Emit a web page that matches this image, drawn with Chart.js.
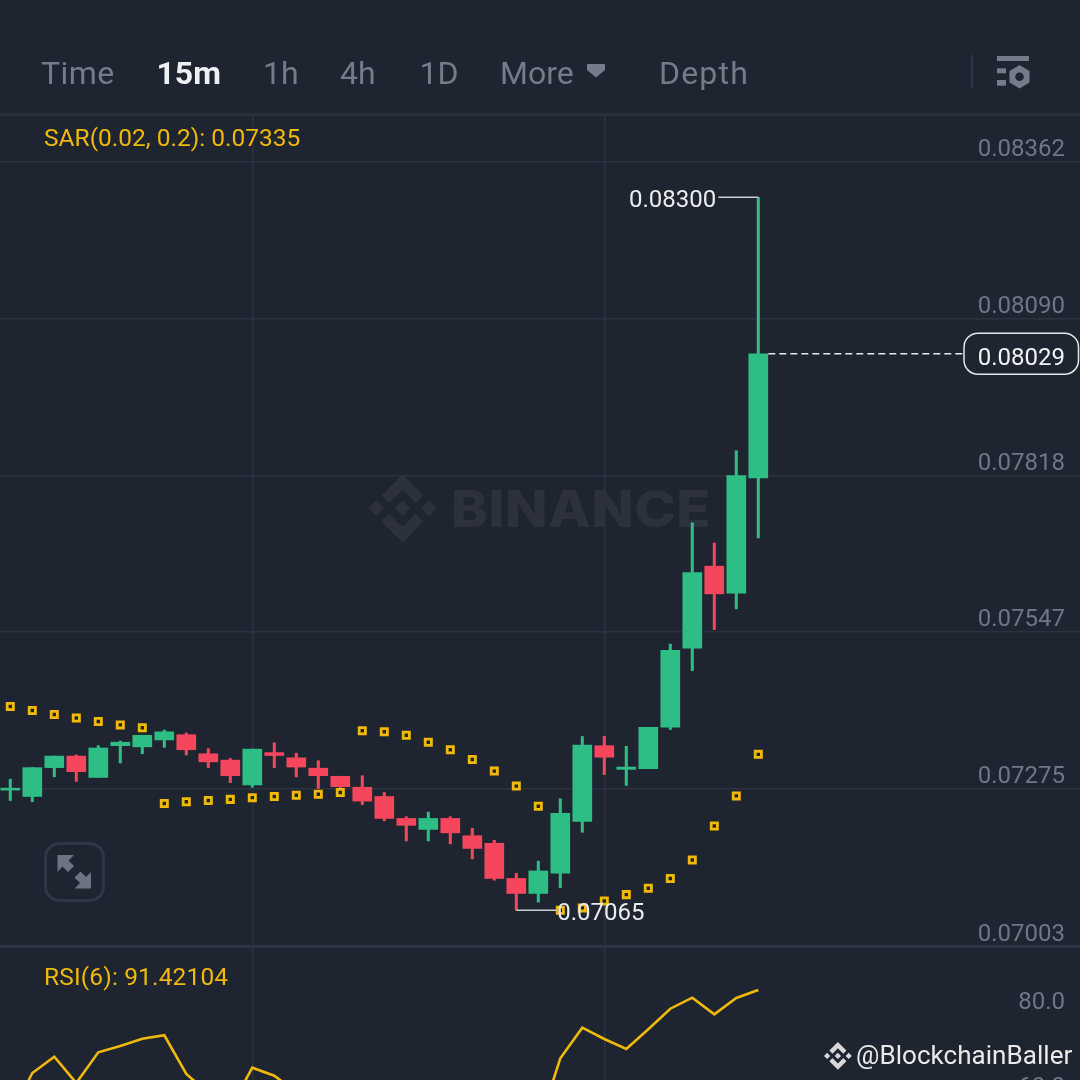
<!DOCTYPE html>
<html>
<head>
<meta charset="utf-8">
<script src="https://cdn.jsdelivr.net/npm/chart.js@4"></script>
<style>
html,body{margin:0;padding:0;background:#1e2530;}
#stage{position:relative;width:1080px;height:1080px;overflow:hidden;background:#1e2530;font-family:Roboto,sans-serif;}
#stage span{position:absolute;white-space:nowrap;}
.tab{font-size:32px;line-height:40px;top:53.4px;color:#747c8b;}
.legend{font-size:24.5px;line-height:30px;color:#f0b90b;}
canvas{position:absolute;left:0;top:0;}
svg{position:absolute;left:0;top:0;}
</style>
</head>
<body>
<div id="stage">
  <svg width="1080" height="1080" viewBox="0 0 1080 1080">
    <g transform="translate(368.5 474.5) scale(0.5370)" fill="#2c313d">
      <path d="M38.73 53.2l24.59-24.58 24.6 24.6 14.3-14.31L63.32 0 24.42 38.9zM0 63.31l14.3-14.31 14.31 14.31-14.31 14.3zM38.73 73.41l24.59 24.59 24.6-24.6 14.31 14.29-38.9 38.91-38.91-38.88-.02-.02zM98.28 63.31l14.3-14.31 14.31 14.3-14.31 14.32zM77.83 63.3L63.32 48.78 52.59 59.51l-1.24 1.23-2.54 2.54 14.51 14.5 14.51-14.47z"/>
    </g>
  </svg>
  <span style="left:451px;top:478.5px;font-family:Inter,sans-serif;font-weight:800;font-size:51px;line-height:60px;letter-spacing:0.5px;color:#2c313d;transform:scaleX(1.09);transform-origin:left center">BINANCE</span>
  <canvas id="c" width="1080" height="1080"></canvas>

  <span class="tab" style="left:41px;letter-spacing:0.4px">Time</span>
  <span class="tab" style="left:156.5px;color:#eef0f3;font-weight:700">15m</span>
  <span class="tab" style="left:263px">1h</span>
  <span class="tab" style="left:340px">4h</span>
  <span class="tab" style="left:419.5px">1D</span>
  <span class="tab" style="left:500px">More</span>
  <span class="tab" style="left:659px;letter-spacing:1.2px">Depth</span>
  <span class="legend" style="left:44px;top:123.3px">SAR(0.02, 0.2): 0.07335</span>
  <span class="legend" style="left:44px;top:962.3px;letter-spacing:0.15px">RSI(6): 91.42104</span>
  <span style="left:856px;top:1040px;font-size:26px;line-height:30px;letter-spacing:0.05px;color:#eaeaea">@BlockchainBaller</span>

  <svg width="1080" height="1080" viewBox="0 0 1080 1080">
    <rect x="0" y="113.3" width="1080" height="2.7" fill="#2a303c"/>
    <polygon points="587,64 605,64 605,70 596,77.5 587,70" fill="#747c8b"/>
    <rect x="971" y="55" width="2" height="33" fill="#2f3643"/>
    <g fill="#747c8b">
      <rect x="997" y="56" width="32" height="5"/>
      <rect x="997" y="68.3" width="9" height="5"/>
      <rect x="997" y="80" width="9" height="5.7"/>
      <path fill-rule="evenodd" d="M1019.5 65L1029.5 71V82.5L1019.5 88.5L1009.5 82.5V71ZM1019.5 72.5A4.3 4.3 0 1 0 1019.5 81.1A4.3 4.3 0 1 0 1019.5 72.5Z"/>
    </g>
    <rect x="45.5" y="843.5" width="58" height="57" rx="14" fill="none" stroke="#303644" stroke-width="3"/>
    <g fill="#6c7482">
      <polygon points="57.5,855 74,855 68.5,860.5 74,866 68,872 62.5,866.5 57.5,872"/>
      <polygon points="91,888.5 74.5,888.5 80,883 74.5,877.5 80.5,871.5 86,877 91,872"/>
    </g>
    <g transform="translate(824 1042) scale(0.2195)" fill="#d9d9d9">
      <path d="M38.73 53.2l24.59-24.58 24.6 24.6 14.3-14.31L63.32 0 24.42 38.9zM0 63.31l14.3-14.31 14.31 14.31-14.31 14.3zM38.73 73.41l24.59 24.59 24.6-24.6 14.31 14.29-38.9 38.91-38.91-38.88-.02-.02zM98.28 63.31l14.3-14.31 14.31 14.3-14.31 14.32zM77.83 63.3L63.32 48.78 52.59 59.51l-1.24 1.23-2.54 2.54 14.51 14.5 14.51-14.47z"/>
    </g>
  </svg>
</div>
<script>
// Candles: open, high, low, close
const opens  = [0.07273,0.07262,0.07312,0.07332,0.07295,0.07350,0.07348,0.07360,0.07369,0.07336,0.07325,0.07282,0.07338,0.07329,0.07311,0.07297,0.07278,0.07262,0.07224,0.07205,0.07224,0.07194,0.07181,0.07120,0.07094,0.07129,0.07219,0.07350,0.07309,0.07310,0.07382,0.07519,0.07661,0.07614,0.07814];
const highs  = [0.07292,0.07312,0.07332,0.07334,0.07350,0.07358,0.07368,0.07377,0.07372,0.07345,0.07328,0.07344,0.07355,0.07337,0.07324,0.07297,0.07298,0.07269,0.07227,0.07235,0.07227,0.07207,0.07186,0.07129,0.07150,0.07258,0.07366,0.07366,0.07349,0.07382,0.07526,0.07736,0.07701,0.07861,0.08300];
const lows   = [0.07255,0.07253,0.07296,0.07288,0.07295,0.07320,0.07336,0.07347,0.07334,0.07312,0.07286,0.07278,0.07312,0.07296,0.07276,0.07273,0.07248,0.07220,0.07185,0.07185,0.07180,0.07154,0.07117,0.07065,0.07079,0.07104,0.07200,0.07300,0.07281,0.07310,0.07378,0.07480,0.07551,0.07587,0.07710];
const closes = [0.07276,0.07312,0.07332,0.07305,0.07346,0.07356,0.07368,0.07374,0.07343,0.07322,0.07298,0.07344,0.07333,0.07313,0.07298,0.07279,0.07254,0.07224,0.07212,0.07224,0.07199,0.07172,0.07120,0.07094,0.07133,0.07233,0.07351,0.07330,0.07313,0.07382,0.07515,0.07650,0.07613,0.07818,0.08029];
// Parabolic SAR
const sarValues = [0.07418,0.07411,0.07404,0.07398,0.07392,0.07386,0.07381,0.07250,0.07253,0.07255,0.07257,0.07260,0.07262,0.07264,0.07266,0.07269,0.07376,0.07374,0.07368,0.07356,0.07343,0.07326,0.07306,0.07280,0.07245,0.07065,0.07069,0.07081,0.07092,0.07103,0.07120,0.07152,0.07211,0.07263,0.07335];
// RSI(6); indices 14-23 sit below the visible panel and are rough estimates
const rsiValues = [61.35,71.76,75.62,69.4,76.66,78.15,79.88,80.69,71.53,67.03,63.48,73.02,71.12,67.27,62,58,52,45,44,47,44,38,30,27,59,75.24,82.49,79.81,77.44,82.11,86.98,89.59,85.66,89.51,91.42];
// Axis ticks
const priceTicks = [0.08362,0.08090,0.07818,0.07547,0.07275,0.07003];
const rsiTicks = [80,60];
const timeGridTicks = [11,27];
const highIndex = 34, lowIndex = 23, lastPrice = 0.08029;

const GREEN='#2ebd85', RED='#f6465d', GOLD='#f0b90b', BG='#1e2530', GRID='#2c323f';
const idx = opens.map((_,i)=>i);
const candleColor = ctx => closes[ctx.dataIndex] >= opens[ctx.dataIndex] ? GREEN : RED;

const annotations = {
  id:'annotations',
  afterDatasetsDraw(chart){
    const {ctx, scales:{x,y}} = chart;
    ctx.save();
    ctx.font='24px Roboto, sans-serif';
    ctx.textBaseline='middle';
    // high marker
    let hx=x.getPixelForValue(highIndex), hy=y.getPixelForValue(highs[highIndex]);
    ctx.strokeStyle='#c9ccd1'; ctx.lineWidth=1.5;
    ctx.beginPath(); ctx.moveTo(hx-40,hy); ctx.lineTo(hx,hy); ctx.stroke();
    ctx.fillStyle='#eaecef'; ctx.textAlign='right';
    ctx.fillText(highs[highIndex].toFixed(5),hx-42,hy+3.5);
    // low marker
    let lx=x.getPixelForValue(lowIndex), ly=y.getPixelForValue(lows[lowIndex]);
    ctx.beginPath(); ctx.moveTo(lx,ly); ctx.lineTo(lx+40,ly); ctx.stroke();
    ctx.textAlign='left';
    ctx.fillText(lows[lowIndex].toFixed(5),lx+41,ly+3.5);
    // last price
    let py=y.getPixelForValue(lastPrice), rx=x.getPixelForValue(highIndex)+10;
    ctx.strokeStyle='#e6e8eb'; ctx.setLineDash([7,4]);
    ctx.beginPath(); ctx.moveTo(rx,py); ctx.lineTo(963,py); ctx.stroke();
    ctx.setLineDash([]);
    ctx.beginPath(); ctx.roundRect(964,py-20.5,114.5,41,14);
    ctx.fillStyle=BG; ctx.fill(); ctx.stroke();
    ctx.fillStyle='#f2f3f5'; ctx.textAlign='right';
    ctx.fillText(lastPrice.toFixed(5),1065,py+5.5);
    ctx.restore();
  }
};

new Chart(document.getElementById('c'),{
  type:'bar',
  data:{datasets:[
    {type:'bar',label:'Wick',order:5,yAxisID:'y',barThickness:2.4,
     data:idx.map(i=>({x:i,y:[lows[i],highs[i]]})),backgroundColor:candleColor,borderWidth:0,borderSkipped:false},
    {type:'bar',label:'Body',order:4,yAxisID:'y',barThickness:19,minBarLength:2,
     data:idx.map(i=>({x:i,y:[opens[i],closes[i]]})),backgroundColor:candleColor,borderWidth:0,borderSkipped:false},
    {type:'scatter',label:'SAR',order:3,yAxisID:'y',showLine:false,
     data:idx.map(i=>({x:i,y:sarValues[i]})),pointStyle:'rect',pointRadius:4.4,pointBorderWidth:2.8,
     pointBackgroundColor:BG,pointBorderColor:GOLD},
    {type:'line',label:'RSI',order:2,yAxisID:'rsi',
     data:idx.map(i=>({x:i,y:rsiValues[i]})),borderColor:GOLD,borderWidth:2.6,pointRadius:0,tension:0,fill:false}
  ]},
  options:{
    responsive:false,animation:false,devicePixelRatio:1,
    layout:{autoPadding:false,padding:{top:116,left:0,right:0,bottom:0}},
    datasets:{bar:{grouped:false}},
    plugins:{legend:{display:false},tooltip:{enabled:false}},
    scales:{
      x:{type:'linear',min:-0.46818,max:48.6227,offset:false,position:'bottom',
         afterBuildTicks(s){s.ticks=timeGridTicks.map(v=>({value:v}));},
         afterFit(s){s.height=0;},
         grid:{color:GRID,lineWidth:1.5,drawTicks:false,offset:false},border:{display:false},
         ticks:{display:false}},
      y:{type:'linear',position:'right',stack:'panes',stackWeight:830,weight:1,min:0.07003,max:0.084408,
         afterBuildTicks(s){s.ticks=priceTicks.map(v=>({value:v}));},
         afterFit(s){s.width=0;},
         grid:{color:GRID,lineWidth:c=>c.tick&&c.tick.value===0.07003?3:1.5,drawTicks:false,tickLength:0},border:{display:false},
         ticks:{mirror:true,padding:-15,labelOffset:-11.5,color:'#6f7684',font:{family:'Roboto',size:24},callback:v=>v.toFixed(5)}},
      rsi:{type:'linear',position:'right',stack:'panes',stackWeight:134,weight:2,min:70.107,max:101.82,
         afterBuildTicks(s){s.ticks=rsiTicks.map(v=>({value:v}));},
         afterFit(s){s.width=0;},
         grid:{display:false,drawTicks:false,tickLength:0},border:{display:false},
         ticks:{mirror:true,padding:-15,labelOffset:-35,color:'#6f7684',font:{family:'Roboto',size:24},callback:v=>v.toFixed(1)}}
    }
  },
  plugins:[annotations]
});
</script>
</body>
</html>
